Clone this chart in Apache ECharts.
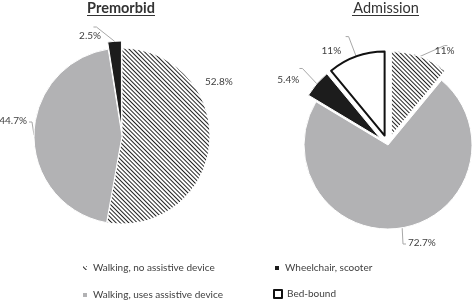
<!DOCTYPE html>
<html>
<head>
<meta charset="utf-8">
<script src="https://cdn.jsdelivr.net/npm/echarts@6/dist/echarts.min.js"></script>
<style>
  html, body { margin: 0; padding: 0; background: #fff; }
  #chart { width: 474px; height: 302px; }
</style>
</head>
<body>
<div id="chart"></div>
<script>
// categories in the order the slices are drawn (clockwise from 12 o'clock)
const categories = [
  'Walking, no assistive device',
  'Walking, uses assistive device',
  'Wheelchair, scooter',
  'Bed-bound'
]
const premorbidValues = [52.8, 44.7, 2.5, 0]
const admissionValues = [11, 72.7, 5.4, 11]
// which slices are pulled out of the pie
const premorbidExploded = [false, false, true, false]
const admissionExploded = [true, false, true, true]

const FONT = 'Lato, "Liberation Sans", sans-serif'
const TEXT = '#404040'

// where the percentage labels sit (label anchor, align); line goes from slice edge to label
const premorbidLabelPos = [
  { x: 205, y: 82, align: 'left', line: false },
  { x: 27, y: 121, align: 'right', line: true },
  { x: 92, y: 33, align: 'right', line: true },
  null
]
const admissionLabelPos = [
  { x: 446, y: 54, align: 'left', line: true },
  { x: 408, y: 243, align: 'left', line: true },
  { x: 305, y: 74, align: 'right', line: true },
  { x: 347, y: 45, align: 'right', line: true }
]

const sliceStyles = [
  {
    color: '#fff',
    borderColor: '#fff',
    borderWidth: 1,
    decal: {
      symbol: 'rect',
      symbolSize: 1,
      dashArrayX: [1, 0],
      dashArrayY: [1, 1.2],
      rotation: Math.PI / 4,
      color: '#222',
      backgroundColor: '#fff'
    }
  },
  { color: '#b2b2b4', borderColor: '#fff', borderWidth: 1 },
  { color: '#1c1c1c', borderColor: '#fff', borderWidth: 1 },
  { color: '#fff', borderColor: '#111', borderWidth: 2 }
]

const buildData = (values, exploded) => {
  return values.map((v, i) => {
    const item = {
      name: categories[i],
      value: v,
      selected: exploded[i],
      itemStyle: sliceStyles[i]
    }
    if (v === 0) {
      item.itemStyle = Object.assign({}, sliceStyles[i], { borderWidth: 0 })
      item.label = { show: false }
      item.labelLine = { show: false }
    }
    return item
  })
}

const makeLabelLayout = (table) => (params) => {
  const pos = table[params.dataIndex]
  if (!pos) return {}
  const pts = params.labelLinePoints
  let linePts
  if (pts && pos.line) {
    const endX = pos.align === 'left' ? pos.x - 2 : pos.x + 2
    const elbowX = pos.align === 'left' ? endX - 3 : endX + 3
    linePts = [pts[0], [elbowX, pos.y + 1], [endX, pos.y + 1]]
  } else if (pts) {
    linePts = [pts[0], pts[0], pts[0]]
  }
  return {
    x: pos.x,
    y: pos.y,
    align: pos.align,
    verticalAlign: 'middle',
    labelLinePoints: linePts
  }
}

const pieBase = {
  type: 'pie',
  startAngle: 90,
  clockwise: true,
  selectedMode: 'multiple',
  avoidLabelOverlap: false,
  silent: true,
  emphasis: { disabled: true },
  label: {
    show: true,
    position: 'outside',
    formatter: (p) => p.value + '%',
    color: TEXT,
    fontFamily: FONT,
    fontSize: 10
  },
  labelLine: {
    show: true,
    length: 6,
    length2: 8,
    lineStyle: { color: '#a8a8a8', width: 1 }
  }
}

const legendBase = {
  orient: 'horizontal',
  itemWidth: 6,
  itemHeight: 6,
  itemGap: 4,
  padding: 0,
  icon: 'rect',
  selectedMode: false,
  textStyle: { fontFamily: FONT, fontSize: 10, color: TEXT, lineHeight: 12 }
}

const chart = echarts.init(document.getElementById('chart'), null, { renderer: 'canvas' })

const option = {
  backgroundColor: '#fff',
  animation: false,
  title: [
    {
      text: 'Premorbid',
      left: 121,
      top: 0,
      padding: 0,
      textAlign: 'center',
      textStyle: { fontFamily: FONT, fontSize: 14.5, lineHeight: 16, fontWeight: 'bold', color: '#333' }
    },
    {
      text: 'Admission',
      left: 386,
      top: 0,
      padding: 0,
      textAlign: 'center',
      textStyle: { fontFamily: FONT, fontSize: 14.5, lineHeight: 16, fontWeight: 'normal', color: '#333' }
    }
  ],
  graphic: [
    { type: 'line', shape: { x1: 87, y1: 15.5, x2: 155, y2: 15.5 }, style: { stroke: '#333', lineWidth: 1 } },
    { type: 'line', shape: { x1: 352, y1: 15.5, x2: 419, y2: 15.5 }, style: { stroke: '#333', lineWidth: 1 } }
  ],
  legend: [
    Object.assign({}, legendBase, { left: 81, top: 262, data: [categories[0]] }),
    Object.assign({}, legendBase, { left: 81, top: 289, data: [categories[1]] }),
    Object.assign({}, legendBase, { left: 273, top: 262, data: [categories[2]] }),
    Object.assign({}, legendBase, {
      left: 273,
      top: 288,
      itemWidth: 8,
      itemHeight: 8,
      data: [{
        name: categories[3],
        itemStyle: { color: '#fff', borderColor: '#111', borderWidth: 2 }
      }]
    })
  ],
  series: [
    Object.assign({}, pieBase, {
      name: 'Premorbid',
      center: [122, 136],
      radius: 88,
      selectedOffset: 7,
      labelLayout: makeLabelLayout(premorbidLabelPos),
      data: buildData(premorbidValues, premorbidExploded)
    }),
    Object.assign({}, pieBase, {
      name: 'Admission',
      center: [388, 145],
      radius: 84,
      selectedOffset: 10,
      labelLayout: makeLabelLayout(admissionLabelPos),
      data: buildData(admissionValues, admissionExploded)
    })
  ]
}

chart.setOption(option)
</script>
</body>
</html>
